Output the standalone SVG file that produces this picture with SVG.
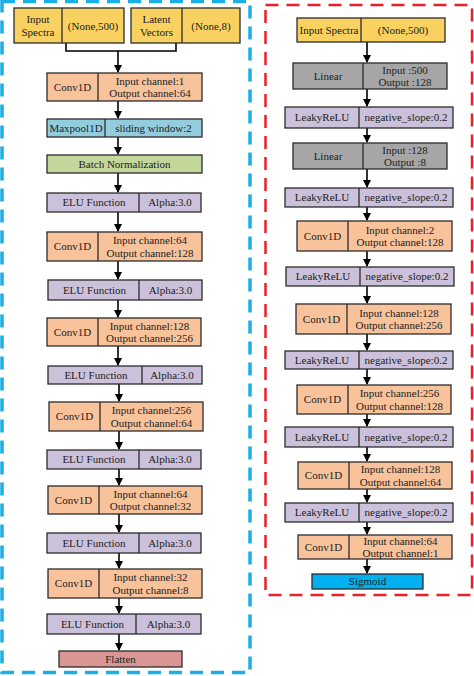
<svg xmlns="http://www.w3.org/2000/svg" width="474" height="676" viewBox="0 0 474 676">
<style>
text{font-family:"Liberation Serif","Times New Roman",serif;font-size:11px;fill:#222;text-anchor:middle}
.b{stroke:#2b2b2b;stroke-width:1.3}
.d{stroke:#2b2b2b;stroke-width:1.3}
.y{fill:#F8D160}
.o{fill:#F8C39B}
.c{fill:#93CDDD}
.g{fill:#C4D79B}
.p{fill:#CCC1DA}
.f{fill:#DA9694}
.gr{fill:#A6A6A6}
.s{fill:#00B0F0}
.con{fill:none;stroke:#000;stroke-width:1.6}
</style>
<defs>
<marker id="ah" markerUnits="userSpaceOnUse" markerWidth="8" markerHeight="8" refX="7" refY="4" orient="auto">
<path d="M0,0 L8,4 L0,8 Z" fill="#000"/>
</marker>
</defs>
<rect x="2" y="1.5" width="248" height="671" fill="none" stroke="#1AAFE8" stroke-width="3.5" stroke-dasharray="13,8"/>
<rect x="265.5" y="5" width="206.5" height="590" fill="none" stroke="#E8202A" stroke-width="2.5" stroke-dasharray="13,8"/>
<g id="connectors">
<path class="con" d="M66,43 V51 H176 V43"/>
<path class="con" d="M118,51 V72" marker-end="url(#ah)"/>
<path class="con" d="M118,101 V118" marker-end="url(#ah)"/>
<path class="con" d="M118,137 V154" marker-end="url(#ah)"/>
<path class="con" d="M118,173 V192" marker-end="url(#ah)"/>
<path class="con" d="M118,212 V231" marker-end="url(#ah)"/>
<path class="con" d="M118,261 V279" marker-end="url(#ah)"/>
<path class="con" d="M118,300 V317" marker-end="url(#ah)"/>
<path class="con" d="M118,346 V365" marker-end="url(#ah)"/>
<path class="con" d="M119,384 V401" marker-end="url(#ah)"/>
<path class="con" d="M119,431 V449" marker-end="url(#ah)"/>
<path class="con" d="M119,469 V485" marker-end="url(#ah)"/>
<path class="con" d="M119,514 V532" marker-end="url(#ah)"/>
<path class="con" d="M119,553 V568" marker-end="url(#ah)"/>
<path class="con" d="M119,598 V613" marker-end="url(#ah)"/>
<path class="con" d="M119,634 V650" marker-end="url(#ah)"/>
<path class="con" d="M367,42 V62" marker-end="url(#ah)"/>
<path class="con" d="M367,89 V106" marker-end="url(#ah)"/>
<path class="con" d="M367,128 V142" marker-end="url(#ah)"/>
<path class="con" d="M367,169 V187" marker-end="url(#ah)"/>
<path class="con" d="M367,207 V220" marker-end="url(#ah)"/>
<path class="con" d="M367,251 V266" marker-end="url(#ah)"/>
<path class="con" d="M367,286 V303" marker-end="url(#ah)"/>
<path class="con" d="M367,334 V350" marker-end="url(#ah)"/>
<path class="con" d="M367,369 V384" marker-end="url(#ah)"/>
<path class="con" d="M367,414 V426" marker-end="url(#ah)"/>
<path class="con" d="M367,447 V461" marker-end="url(#ah)"/>
<path class="con" d="M367,489 V502" marker-end="url(#ah)"/>
<path class="con" d="M367,522 V534" marker-end="url(#ah)"/>
<path class="con" d="M367,559 V573" marker-end="url(#ah)"/>
</g>
<!-- Left panel -->
<g id="l_input_spectra">
<rect class="b y" x="14" y="8" width="110" height="35"/>
<line class="d" x1="62" y1="8" x2="62" y2="43"/>
<text x="38" y="22.5">Input</text><text x="38" y="35.5">Spectra</text>
<text x="93" y="29.5">(None,500)</text>
</g>
<g id="l_latent_vectors">
<rect class="b y" x="131" y="8" width="109" height="35"/>
<line class="d" x1="182" y1="8" x2="182" y2="43"/>
<text x="156.5" y="22.5">Latent</text><text x="156.5" y="35.5">Vectors</text>
<text x="211" y="29.5">(None,8)</text>
</g>
<g id="l_conv1">
<rect class="b o" x="47" y="73" width="155" height="28"/>
<line class="d" x1="98" y1="73" x2="98" y2="101"/>
<text x="72.5" y="90.8">Conv1D</text>
<text x="150" y="84.5">Input channel:1</text><text x="150" y="97">Output channel:64</text>
</g>
<g id="l_maxpool">
<rect class="b c" x="47" y="119" width="155" height="18"/>
<line class="d" x1="105" y1="119" x2="105" y2="137"/>
<text x="76" y="131.8">Maxpool1D</text>
<text x="153.5" y="131.8">sliding window:2</text>
</g>
<g id="l_batchnorm">
<rect class="b g" x="47" y="155" width="155" height="18"/>
<text x="124.5" y="167.8">Batch Normalization</text>
</g>
<g id="l_elu1">
<rect class="b p" x="47" y="193" width="154" height="19"/>
<line class="d" x1="139" y1="193" x2="139" y2="212"/>
<text x="94" y="206.3">ELU Function</text>
<text x="170" y="206.3">Alpha:3.0</text>
</g>
<g id="l_conv2">
<rect class="b o" x="47" y="232" width="155" height="29"/>
<line class="d" x1="98" y1="232" x2="98" y2="261"/>
<text x="72.5" y="250.3">Conv1D</text>
<text x="150" y="244">Input channel:64</text><text x="150" y="256.5">Output channel:128</text>
</g>
<g id="l_elu2">
<rect class="b p" x="48" y="280" width="154" height="20"/>
<line class="d" x1="139" y1="280" x2="139" y2="300"/>
<text x="94.5" y="293.8">ELU Function</text>
<text x="170.5" y="293.8">Alpha:3.0</text>
</g>
<g id="l_conv3">
<rect class="b o" x="47" y="318" width="154" height="28"/>
<line class="d" x1="98" y1="318" x2="98" y2="346"/>
<text x="72.5" y="335.8">Conv1D</text>
<text x="149.5" y="329.5">Input channel:128</text><text x="149.5" y="342">Output channel:256</text>
</g>
<g id="l_elu3">
<rect class="b p" x="48" y="366" width="154" height="18"/>
<line class="d" x1="142" y1="366" x2="142" y2="384"/>
<text x="96" y="378.8">ELU Function</text>
<text x="172" y="378.8">Alpha:3.0</text>
</g>
<g id="l_conv4">
<rect class="b o" x="49" y="402" width="154" height="29"/>
<line class="d" x1="100" y1="402" x2="100" y2="431"/>
<text x="74.5" y="420.3">Conv1D</text>
<text x="151.5" y="414">Input channel:256</text><text x="151.5" y="426.5">Output channel:64</text>
</g>
<g id="l_elu4">
<rect class="b p" x="47" y="450" width="154" height="19"/>
<line class="d" x1="139" y1="450" x2="139" y2="469"/>
<text x="94" y="463.3">ELU Function</text>
<text x="170" y="463.3">Alpha:3.0</text>
</g>
<g id="l_conv5">
<rect class="b o" x="48" y="486" width="154" height="28"/>
<line class="d" x1="99" y1="486" x2="99" y2="514"/>
<text x="73.5" y="503.8">Conv1D</text>
<text x="150.5" y="497.5">Input channel:64</text><text x="150.5" y="510">Output channel:32</text>
</g>
<g id="l_elu5">
<rect class="b p" x="47" y="533" width="154" height="20"/>
<line class="d" x1="139" y1="533" x2="139" y2="553"/>
<text x="94" y="546.8">ELU Function</text>
<text x="170" y="546.8">Alpha:3.0</text>
</g>
<g id="l_conv6">
<rect class="b o" x="48" y="569" width="154" height="29"/>
<line class="d" x1="99" y1="569" x2="99" y2="598"/>
<text x="73.5" y="587.3">Conv1D</text>
<text x="150.5" y="581">Input channel:32</text><text x="150.5" y="593.5">Output channel:8</text>
</g>
<g id="l_elu6">
<rect class="b p" x="47" y="614" width="154" height="20"/>
<line class="d" x1="136" y1="614" x2="136" y2="634"/>
<text x="92.5" y="627.8">ELU Function</text>
<text x="168.5" y="627.8">Alpha:3.0</text>
</g>
<g id="l_flatten">
<rect class="b f" x="59" y="651" width="123" height="16"/>
<text x="120.5" y="662.8">Flatten</text>
</g>
<!-- Right panel -->
<g id="r_input_spectra">
<rect class="b y" x="297" y="18" width="148" height="24"/>
<line class="d" x1="361" y1="18" x2="361" y2="42"/>
<text x="329" y="33.8">Input Spectra</text>
<text x="403" y="33.8">(None,500)</text>
</g>
<g id="r_linear1">
<rect class="b gr" x="293" y="63" width="154" height="26"/>
<line class="d" x1="363" y1="63" x2="363" y2="89"/>
<text x="328" y="79.8">Linear</text>
<text x="405" y="73.5">Input :500</text><text x="405" y="86">Output :128</text>
</g>
<g id="r_leaky1">
<rect class="b p" x="285" y="107" width="168" height="21"/>
<line class="d" x1="359" y1="107" x2="359" y2="128"/>
<text x="322" y="121.3">LeakyReLU</text>
<text x="406" y="121.3">negative_slope:0.2</text>
</g>
<g id="r_linear2">
<rect class="b gr" x="293" y="143" width="154" height="26"/>
<line class="d" x1="363" y1="143" x2="363" y2="169"/>
<text x="328" y="159.8">Linear</text>
<text x="405" y="153.5">Input :128</text><text x="405" y="166">Output :8</text>
</g>
<g id="r_leaky2">
<rect class="b p" x="285" y="188" width="168" height="19"/>
<line class="d" x1="359" y1="188" x2="359" y2="207"/>
<text x="322" y="201.3">LeakyReLU</text>
<text x="406" y="201.3">negative_slope:0.2</text>
</g>
<g id="r_conv1">
<rect class="b o" x="297" y="221" width="155" height="30"/>
<line class="d" x1="348" y1="221" x2="348" y2="251"/>
<text x="322.5" y="239.8">Conv1D</text>
<text x="400" y="233.5">Input channel:2</text><text x="400" y="246">Output channel:128</text>
</g>
<g id="r_leaky3">
<rect class="b p" x="286" y="267" width="168" height="19"/>
<line class="d" x1="360" y1="267" x2="360" y2="286"/>
<text x="323" y="280.3">LeakyReLU</text>
<text x="407" y="280.3">negative_slope:0.2</text>
</g>
<g id="r_conv2">
<rect class="b o" x="296" y="304" width="155" height="30"/>
<line class="d" x1="347" y1="304" x2="347" y2="334"/>
<text x="321.5" y="322.8">Conv1D</text>
<text x="399" y="316.5">Input channel:128</text><text x="399" y="329">Output channel:256</text>
</g>
<g id="r_leaky4">
<rect class="b p" x="285" y="351" width="168" height="18"/>
<line class="d" x1="359" y1="351" x2="359" y2="369"/>
<text x="322" y="363.8">LeakyReLU</text>
<text x="406" y="363.8">negative_slope:0.2</text>
</g>
<g id="r_conv3">
<rect class="b o" x="297" y="385" width="154" height="29"/>
<line class="d" x1="348" y1="385" x2="348" y2="414"/>
<text x="322.5" y="403.3">Conv1D</text>
<text x="399.5" y="397">Input channel:256</text><text x="399.5" y="409.5">Output channel:128</text>
</g>
<g id="r_leaky5">
<rect class="b p" x="285" y="427" width="168" height="20"/>
<line class="d" x1="359" y1="427" x2="359" y2="447"/>
<text x="322" y="440.8">LeakyReLU</text>
<text x="406" y="440.8">negative_slope:0.2</text>
</g>
<g id="r_conv4">
<rect class="b o" x="298" y="462" width="154" height="27"/>
<line class="d" x1="349" y1="462" x2="349" y2="489"/>
<text x="323.5" y="479.3">Conv1D</text>
<text x="400.5" y="473">Input channel:128</text><text x="400.5" y="485.5">Output channel:64</text>
</g>
<g id="r_leaky6">
<rect class="b p" x="285" y="503" width="168" height="19"/>
<line class="d" x1="359" y1="503" x2="359" y2="522"/>
<text x="322" y="516.3">LeakyReLU</text>
<text x="406" y="516.3">negative_slope:0.2</text>
</g>
<g id="r_conv5">
<rect class="b o" x="298" y="535" width="154" height="24"/>
<line class="d" x1="349" y1="535" x2="349" y2="559"/>
<text x="323.5" y="550.8">Conv1D</text>
<text x="400.5" y="545">Input channel:64</text><text x="400.5" y="557">Output channel:1</text>
</g>
<g id="r_sigmoid">
<rect class="b s" x="312" y="574" width="111" height="15"/>
<text x="367.5" y="585.3">Sigmoid</text>
</g>
</svg>
